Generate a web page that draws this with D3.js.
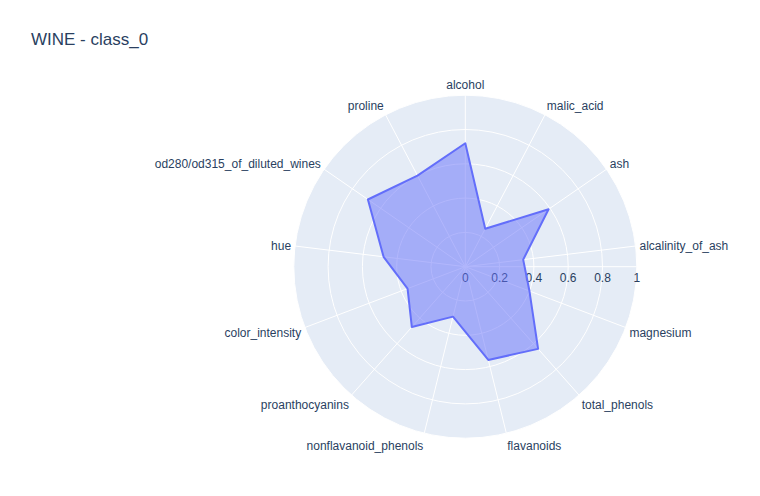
<!DOCTYPE html>
<html>
<head>
<meta charset="utf-8">
<script src="https://cdn.jsdelivr.net/npm/d3@7"></script>
<style>
  body { margin: 0; background: #fff; }
  svg { font-family: "Liberation Sans", Arial, sans-serif; }
</style>
</head>
<body>
<div id="chart"></div>
<script>
// datos
const categorias = ["alcohol", "malic_acid", "ash", "alcalinity_of_ash", "magnesium",
    "total_phenols", "flavanoids", "nonflavanoid_phenols", "proanthocyanins",
    "color_intensity", "hue", "od280/od315_of_diluted_wines", "proline"];
const valores = [0.72, 0.25, 0.59, 0.34, 0.40, 0.64, 0.56, 0.30, 0.47, 0.36, 0.48, 0.69, 0.60];
const ticksRadio = [0, 0.2, 0.4, 0.6, 0.8, 1];
const titulo = "WINE - class_0";

const width = 760, height = 496;
const cx = 465.3, cy = 266.7, R = 171.5;
const textColor = "#2a3f5f";

const svg = d3.select("#chart")
    .append("svg")
    .attr("width", width)
    .attr("height", height);

// titulo
svg.append("text")
    .attr("x", 31)
    .attr("y", 45)
    .attr("fill", textColor)
    .style("font-size", "17px")
    .text(titulo);

const g = svg.append("g")
    .attr("transform", `translate(${cx},${cy})`);

const rScale = d3.scaleLinear().domain([0, 1]).range([0, R]);
// angulo en sentido horario desde arriba (radianes)
const angScale = d3.scalePoint().domain(categorias).range([0, 2 * Math.PI * (1 - 1 / categorias.length)]);

// fondo
g.append("circle")
    .attr("r", R)
    .attr("fill", "#E5ECF6");

// circulos de la grilla
g.selectAll("circle.grid")
    .data(ticksRadio.filter(d => d > 0))
    .enter()
    .append("circle")
    .attr("class", "grid")
    .attr("r", d => rScale(d))
    .attr("fill", "none")
    .attr("stroke", "#fff")
    .attr("stroke-width", 1);

// lineas angulares
g.selectAll("line.ang")
    .data(categorias)
    .enter()
    .append("line")
    .attr("class", "ang")
    .attr("x1", 0)
    .attr("y1", 0)
    .attr("x2", d => R * Math.sin(angScale(d)))
    .attr("y2", d => -R * Math.cos(angScale(d)))
    .attr("stroke", "#fff")
    .attr("stroke-width", 1);

// eje radial
g.append("line")
    .attr("x1", 0)
    .attr("y1", 0)
    .attr("x2", R)
    .attr("y2", 0)
    .attr("stroke", "#fff")
    .attr("stroke-width", 1);

g.selectAll("text.rtick")
    .data(ticksRadio)
    .enter()
    .append("text")
    .attr("class", "rtick")
    .attr("x", d => rScale(d))
    .attr("y", 15)
    .attr("text-anchor", "middle")
    .attr("fill", textColor)
    .style("font-size", "12px")
    .text(d => d3.format("~g")(d));

// area de datos
const linea = d3.lineRadial()
    .angle((d, i) => angScale(categorias[i]))
    .radius(d => rScale(d))
    .curve(d3.curveLinearClosed);

g.append("path")
    .datum(valores)
    .attr("d", linea)
    .attr("fill", "rgba(99,110,250,0.5)")
    .attr("stroke", "#636efa")
    .attr("stroke-width", 2)
    .attr("stroke-linejoin", "round");

// etiquetas de categorias
g.selectAll("text.cat")
    .data(categorias)
    .enter()
    .append("text")
    .attr("class", "cat")
    .each(function (d) {
        const a = angScale(d);
        const sx = Math.sin(a), cy_ = Math.cos(a);
        const x = (R + 4) * sx;
        const y = -(R + 4) * cy_ - cy_ * 7.5 + 5.5;
        const anchor = Math.abs(sx) < 0.05 ? "middle" : (sx > 0 ? "start" : "end");
        d3.select(this)
            .attr("x", x)
            .attr("y", y)
            .attr("text-anchor", anchor);
    })
    .attr("fill", textColor)
    .style("font-size", "12px")
    .text(d => d);
</script>
</body>
</html>
